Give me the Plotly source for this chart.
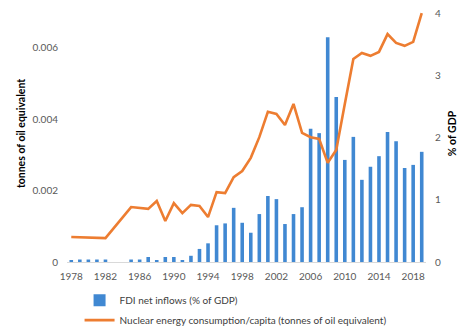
import plotly.graph_objects as go

years = list(range(1978, 2020))

# FDI net inflows (% of GDP) - bars (right axis)
fdi = [0.02, 0.04, 0.04, 0.04, 0.04, None, None, 0.04, 0.04, 0.08, 0.03, 0.08,
       0.08, 0.03, 0.10, 0.21, 0.30, 0.59, 0.62, 0.87, 0.63, 0.47, 0.77, 1.06,
       1.01, 0.61, 0.77, 0.88, 2.14, 2.07, 3.61, 2.65, 1.64, 2.01, 1.32, 1.53,
       1.70, 2.09, 1.94, 1.51, 1.56, 1.77]

# Nuclear energy consumption/capita (tonnes of oil equivalent) - line (left axis)
nuclear = [0.00070, None, None, None, 0.00067, None, None, 0.00154, 0.00151, 0.00149,
           0.00171, 0.00115, 0.00165, 0.00137, 0.00160, 0.00157, 0.00126, 0.00196,
           0.00193, 0.00238, 0.00255, 0.00292, 0.00350, 0.00421, 0.00415, 0.00384,
           0.00443, 0.00362, 0.00350, 0.00345, 0.00278, 0.00314, 0.00443, 0.00569,
           0.00586, 0.00578, 0.00589, 0.00639, 0.00614, 0.00606, 0.00617, 0.00698]

xticks = list(range(1978, 2019, 4))
left_ticks = [0, 0.002, 0.004, 0.006]
left_labels = ["0", "0.002", "0.004", "0.006"]
right_ticks = [0, 1, 2, 3, 4]

FONT = "Lato, 'Open Sans', sans-serif"
TICKC = "#595959"

fig = go.Figure()
fig.add_trace(go.Bar(
    x=years, y=fdi, name="FDI net inflows (% of GDP)",
    marker=dict(color="#4088D2", line=dict(width=0)),
    yaxis="y", legendgroup="a",
))
fig.add_trace(go.Scatter(
    x=years, y=nuclear, name="Nuclear energy consumption/capita (tonnes of oil equivalent)",
    mode="lines", connectgaps=True,
    line=dict(color="#ED7D31", width=2.6),
    yaxis="y2", legendgroup="b",
))

fig.update_layout(
    width=474, height=335,
    margin=dict(l=67, r=48, t=5, b=73, autoexpand=False),
    paper_bgcolor="white", plot_bgcolor="white",
    bargap=0.58,
    font=dict(family=FONT, size=10, color=TICKC),
    showlegend=True,
    legend=dict(
        x=0.035, y=-0.092, xanchor="left", yanchor="top",
        orientation="v", font=dict(family=FONT, size=10, color="#404040"),
        tracegroupgap=1, itemwidth=30,
    ),
    xaxis=dict(
        range=[1977.5, 2019.5], tickmode="array", tickvals=xticks,
        showgrid=False, zeroline=False, showline=True, linecolor="#D9D9D9", linewidth=1,
        ticks="", ticklabelstandoff=5, automargin=False,
        tickfont=dict(family=FONT, size=10, color=TICKC),
    ),
    yaxis=dict(
        side="right", range=[0, 257 / 62.25], tickmode="array", tickvals=right_ticks,
        showgrid=False, zeroline=False, showline=False, ticks="",
        ticklabelstandoff=8, automargin=False,
        tickfont=dict(family=FONT, size=10, color=TICKC),
        title=dict(text="<b>% of GDP</b>", font=dict(family=FONT, size=10.5, color="black"), standoff=8),
    ),
    yaxis2=dict(
        side="left", overlaying="y", range=[0, 257 / 35670.0], tickmode="array",
        tickvals=left_ticks, ticktext=left_labels,
        showgrid=False, zeroline=False, showline=False, ticks="",
        ticklabelstandoff=8, automargin=False,
        tickfont=dict(family=FONT, size=10, color=TICKC),
        title=dict(text="<b>tonnes of oil equivalent</b>", font=dict(family=FONT, size=10.5, color="black"), standoff=4),
    ),
)

fig.write_html("out.html")
